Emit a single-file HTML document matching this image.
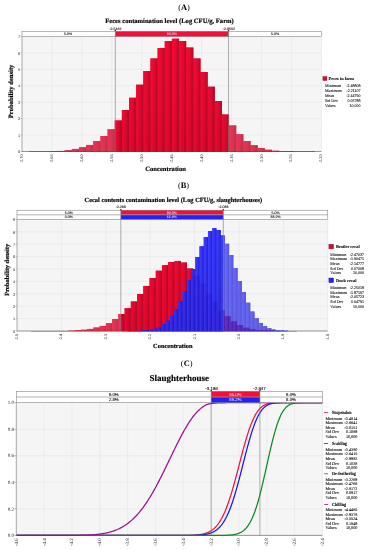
<!DOCTYPE html>
<html><head><meta charset="utf-8"><title>Figure</title>
<style>
html,body{margin:0;padding:0;background:#fff;}
svg{display:block}
text{font-family:"Liberation Serif","Times New Roman",serif;fill:#000;text-rendering:geometricPrecision}
.t{font-weight:bold;font-size:6.6px;text-anchor:middle;stroke:#000;stroke-width:0.16px}
.p{font-size:8.4px;text-anchor:middle}
.ax{font-weight:bold;font-size:6.6px;text-anchor:middle;stroke:#000;stroke-width:0.16px}
.tk{font-size:3.8px;fill:#222;font-family:"Liberation Sans",Arial,sans-serif}
.tkc{font-size:5px;fill:#222}
.lg{font-weight:bold;font-size:4.4px;stroke:#000;stroke-width:0.07px}
.st{font-size:4.2px;fill:#000;stroke:#000;stroke-width:0.07px}
.dl{font-size:3.6px;text-anchor:middle;font-family:"Liberation Sans",Arial,sans-serif;fill:#000;stroke:#000;stroke-width:0.08px}
.dw{font-size:3.6px;text-anchor:middle;font-family:"Liberation Sans",Arial,sans-serif;fill:#fff}
</style></head><body>
<svg width="368" height="550" viewBox="0 0 368 550">
<defs>
<linearGradient id="gr" x1="0" y1="0" x2="1" y2="0"><stop offset="0" stop-color="#fa0a34"/><stop offset="0.55" stop-color="#e40a30"/><stop offset="1" stop-color="#b80828"/></linearGradient>
<linearGradient id="gb" x1="0" y1="0" x2="1" y2="0"><stop offset="0" stop-color="#3a3aff"/><stop offset="0.55" stop-color="#2a2af8"/><stop offset="1" stop-color="#1818d4"/></linearGradient>
</defs>
<rect width="368" height="550" fill="#fff"/>

<text class="p" x="184" y="10.2">(<tspan font-weight="bold">A</tspan>)</text>
<text class="t" x="169.5" y="22.9">Feces contamination level (Log CFU/g, Farm)</text>
<rect x="22" y="36.5" width="299.4" height="115.0" fill="#f5f5f5"/>
<line x1="51.94" y1="36.5" x2="51.94" y2="151.5" stroke="#e3e3e3" stroke-width="0.5"/>
<line x1="81.88" y1="36.5" x2="81.88" y2="151.5" stroke="#e3e3e3" stroke-width="0.5"/>
<line x1="111.82" y1="36.5" x2="111.82" y2="151.5" stroke="#e3e3e3" stroke-width="0.5"/>
<line x1="141.76" y1="36.5" x2="141.76" y2="151.5" stroke="#e3e3e3" stroke-width="0.5"/>
<line x1="171.70" y1="36.5" x2="171.70" y2="151.5" stroke="#e3e3e3" stroke-width="0.5"/>
<line x1="201.64" y1="36.5" x2="201.64" y2="151.5" stroke="#e3e3e3" stroke-width="0.5"/>
<line x1="231.58" y1="36.5" x2="231.58" y2="151.5" stroke="#e3e3e3" stroke-width="0.5"/>
<line x1="261.52" y1="36.5" x2="261.52" y2="151.5" stroke="#e3e3e3" stroke-width="0.5"/>
<line x1="291.46" y1="36.5" x2="291.46" y2="151.5" stroke="#e3e3e3" stroke-width="0.5"/>
<line x1="22" y1="151.50" x2="321.4" y2="151.50" stroke="#e3e3e3" stroke-width="0.5"/>
<line x1="22" y1="135.07" x2="321.4" y2="135.07" stroke="#e3e3e3" stroke-width="0.5"/>
<line x1="22" y1="118.64" x2="321.4" y2="118.64" stroke="#e3e3e3" stroke-width="0.5"/>
<line x1="22" y1="102.21" x2="321.4" y2="102.21" stroke="#e3e3e3" stroke-width="0.5"/>
<line x1="22" y1="85.79" x2="321.4" y2="85.79" stroke="#e3e3e3" stroke-width="0.5"/>
<line x1="22" y1="69.36" x2="321.4" y2="69.36" stroke="#e3e3e3" stroke-width="0.5"/>
<line x1="22" y1="52.93" x2="321.4" y2="52.93" stroke="#e3e3e3" stroke-width="0.5"/>
<line x1="22" y1="36.50" x2="321.4" y2="36.50" stroke="#e3e3e3" stroke-width="0.5"/>
<line x1="22" y1="151.5" x2="321.4" y2="151.5" stroke="#707070" stroke-width="0.7"/>
<defs><clipPath id="hAi"><rect x="115.3" y="36.5" width="113.2" height="115.5"/></clipPath>
<clipPath id="hAo"><rect x="22" y="36.5" width="93.3" height="115.5"/><rect x="228.5" y="36.5" width="92.89999999999998" height="115.5"/></clipPath>
<linearGradient id="hAv" gradientUnits="userSpaceOnUse" x1="0" y1="36.5" x2="0" y2="152.0"><stop offset="0" stop-color="#000" stop-opacity="0"/><stop offset="1" stop-color="#000" stop-opacity="0.07"/></linearGradient>
<g id="hA"><path d="M29.00 152.0V151.60H36.14V151.60H43.29V151.60H50.44V151.19H57.58V150.88H64.72V150.31H71.87V148.90H79.02V147.30H86.16V144.90H93.30V141.10H100.45V136.00H107.59V129.30H114.74V120.50H121.88V110.00H129.03V97.80H136.18V84.70H143.32V71.00H150.47V58.50H157.61V48.10H164.75V41.10H171.90V38.70H179.04V41.10H186.19V47.60H193.34V58.50H200.48V72.10H207.62V86.70H214.77V101.00H221.91V114.60H229.06V125.50H236.21V134.30H243.35V141.00H250.50V145.25H257.64V148.00H264.78V149.75H271.93V150.75H279.07V151.20H286.22V151.11H293.36V151.60H300.51V151.60H307.65V151.60H314.80V152.0Z" fill="#d80a2e"/>
<rect x="29.00" y="151.60" width="7.14" height="0.40" fill="url(#gr)"/>
<rect x="36.14" y="151.60" width="7.14" height="0.40" fill="url(#gr)"/>
<rect x="43.29" y="151.60" width="7.15" height="0.40" fill="url(#gr)"/>
<rect x="50.44" y="151.19" width="7.14" height="0.81" fill="url(#gr)"/>
<rect x="57.58" y="150.88" width="7.14" height="1.12" fill="url(#gr)"/>
<rect x="64.72" y="150.31" width="7.14" height="1.69" fill="url(#gr)"/>
<rect x="71.87" y="148.90" width="7.14" height="3.10" fill="url(#gr)"/>
<rect x="79.02" y="147.30" width="7.14" height="4.70" fill="url(#gr)"/>
<rect x="86.16" y="144.90" width="7.14" height="7.10" fill="url(#gr)"/>
<rect x="93.30" y="141.10" width="7.14" height="10.90" fill="url(#gr)"/>
<rect x="100.45" y="136.00" width="7.14" height="16.00" fill="url(#gr)"/>
<rect x="107.59" y="129.30" width="7.14" height="22.70" fill="url(#gr)"/>
<rect x="114.74" y="120.50" width="7.14" height="31.50" fill="url(#gr)"/>
<rect x="121.88" y="110.00" width="7.15" height="42.00" fill="url(#gr)"/>
<rect x="129.03" y="97.80" width="7.15" height="54.20" fill="url(#gr)"/>
<rect x="136.18" y="84.70" width="7.15" height="67.30" fill="url(#gr)"/>
<rect x="143.32" y="71.00" width="7.15" height="81.00" fill="url(#gr)"/>
<rect x="150.46" y="58.50" width="7.15" height="93.50" fill="url(#gr)"/>
<rect x="157.61" y="48.10" width="7.15" height="103.90" fill="url(#gr)"/>
<rect x="164.75" y="41.10" width="7.15" height="110.90" fill="url(#gr)"/>
<rect x="171.90" y="38.70" width="7.15" height="113.30" fill="url(#gr)"/>
<rect x="179.04" y="41.10" width="7.15" height="110.90" fill="url(#gr)"/>
<rect x="186.19" y="47.60" width="7.15" height="104.40" fill="url(#gr)"/>
<rect x="193.33" y="58.50" width="7.15" height="93.50" fill="url(#gr)"/>
<rect x="200.48" y="72.10" width="7.15" height="79.90" fill="url(#gr)"/>
<rect x="207.62" y="86.70" width="7.15" height="65.30" fill="url(#gr)"/>
<rect x="214.77" y="101.00" width="7.15" height="51.00" fill="url(#gr)"/>
<rect x="221.91" y="114.60" width="7.15" height="37.40" fill="url(#gr)"/>
<rect x="229.06" y="125.50" width="7.15" height="26.50" fill="url(#gr)"/>
<rect x="236.20" y="134.30" width="7.15" height="17.70" fill="url(#gr)"/>
<rect x="243.35" y="141.00" width="7.15" height="11.00" fill="url(#gr)"/>
<rect x="250.49" y="145.25" width="7.15" height="6.75" fill="url(#gr)"/>
<rect x="257.64" y="148.00" width="7.14" height="4.00" fill="url(#gr)"/>
<rect x="264.78" y="149.75" width="7.14" height="2.25" fill="url(#gr)"/>
<rect x="271.93" y="150.75" width="7.14" height="1.25" fill="url(#gr)"/>
<rect x="279.07" y="151.20" width="7.14" height="0.80" fill="url(#gr)"/>
<rect x="286.22" y="151.11" width="7.14" height="0.89" fill="url(#gr)"/>
<rect x="293.37" y="151.60" width="7.14" height="0.40" fill="url(#gr)"/>
<rect x="300.51" y="151.60" width="7.14" height="0.40" fill="url(#gr)"/>
<rect x="307.65" y="151.60" width="7.14" height="0.40" fill="url(#gr)"/>
<path d="M29.00 152.0V151.60H36.14V151.60H43.29V151.60H50.44V151.19H57.58V150.88H64.72V150.31H71.87V148.90H79.02V147.30H86.16V144.90H93.30V141.10H100.45V136.00H107.59V129.30H114.74V120.50H121.88V110.00H129.03V97.80H136.18V84.70H143.32V71.00H150.47V58.50H157.61V48.10H164.75V41.10H171.90V38.70H179.04V41.10H186.19V47.60H193.34V58.50H200.48V72.10H207.62V86.70H214.77V101.00H221.91V114.60H229.06V125.50H236.21V134.30H243.35V141.00H250.50V145.25H257.64V148.00H264.78V149.75H271.93V150.75H279.07V151.20H286.22V151.11H293.36V151.60H300.51V151.60H307.65V151.60H314.80V152.0Z" fill="url(#hAv)"/></g></defs>
<use href="#hA" clip-path="url(#hAi)" opacity="1"/>
<use href="#hA" clip-path="url(#hAo)" opacity="0.82"/>
<rect x="22" y="31.3" width="299.4" height="5.199999999999999" fill="#fff"/>
<rect x="115.3" y="31.3" width="113.2" height="5.199999999999999" fill="#fa0c38"/>
<line x1="115.3" y1="31.3" x2="115.3" y2="151.5" stroke="#6e6e6e" stroke-width="0.55"/>
<path d="M114.3 30.1h2l-1 1.4z" fill="#222"/>
<line x1="228.5" y1="31.3" x2="228.5" y2="151.5" stroke="#6e6e6e" stroke-width="0.55"/>
<path d="M227.5 30.1h2l-1 1.4z" fill="#222"/>
<rect x="22" y="31.3" width="299.4" height="5.199999999999999" fill="none" stroke="#707070" stroke-width="0.5"/>
<path d="M22 36.5V151.8" fill="none" stroke="#858585" stroke-width="0.7"/>
<line x1="321.4" y1="36.5" x2="321.4" y2="151.5" stroke="#dcdcdc" stroke-width="0.5"/>
<text class="dl" x="68" y="35.2">5.0%</text>
<text class="dw" x="171.8" y="35.2">90.0%</text>
<text class="dl" x="275" y="35.2">5.0%</text>
<text class="dl" x="115.3" y="30">-2.5442</text>
<text class="dl" x="228.8" y="30">-2.3502</text>
<text class="tk" text-anchor="end" transform="translate(23.00,154.40) rotate(-90)">-2.70</text>
<text class="tk" text-anchor="end" transform="translate(52.94,154.40) rotate(-90)">-2.65</text>
<text class="tk" text-anchor="end" transform="translate(82.88,154.40) rotate(-90)">-2.60</text>
<text class="tk" text-anchor="end" transform="translate(112.82,154.40) rotate(-90)">-2.55</text>
<text class="tk" text-anchor="end" transform="translate(142.76,154.40) rotate(-90)">-2.50</text>
<text class="tk" text-anchor="end" transform="translate(172.70,154.40) rotate(-90)">-2.45</text>
<text class="tk" text-anchor="end" transform="translate(202.64,154.40) rotate(-90)">-2.40</text>
<text class="tk" text-anchor="end" transform="translate(232.58,154.40) rotate(-90)">-2.35</text>
<text class="tk" text-anchor="end" transform="translate(262.52,154.40) rotate(-90)">-2.30</text>
<text class="tk" text-anchor="end" transform="translate(292.46,154.40) rotate(-90)">-2.25</text>
<text class="tk" text-anchor="end" transform="translate(322.40,154.40) rotate(-90)">-2.20</text>
<text class="tk" x="20.0" y="153.20" text-anchor="end">0</text>
<line x1="20.5" y1="151.50" x2="22" y2="151.50" stroke="#888" stroke-width="0.4"/>
<text class="tk" x="20.0" y="136.77" text-anchor="end">1</text>
<line x1="20.5" y1="135.07" x2="22" y2="135.07" stroke="#888" stroke-width="0.4"/>
<text class="tk" x="20.0" y="120.34" text-anchor="end">2</text>
<line x1="20.5" y1="118.64" x2="22" y2="118.64" stroke="#888" stroke-width="0.4"/>
<text class="tk" x="20.0" y="103.91" text-anchor="end">3</text>
<line x1="20.5" y1="102.21" x2="22" y2="102.21" stroke="#888" stroke-width="0.4"/>
<text class="tk" x="20.0" y="87.49" text-anchor="end">4</text>
<line x1="20.5" y1="85.79" x2="22" y2="85.79" stroke="#888" stroke-width="0.4"/>
<text class="tk" x="20.0" y="71.06" text-anchor="end">5</text>
<line x1="20.5" y1="69.36" x2="22" y2="69.36" stroke="#888" stroke-width="0.4"/>
<text class="tk" x="20.0" y="54.63" text-anchor="end">6</text>
<line x1="20.5" y1="52.93" x2="22" y2="52.93" stroke="#888" stroke-width="0.4"/>
<text class="tk" x="20.0" y="38.20" text-anchor="end">7</text>
<line x1="20.5" y1="36.50" x2="22" y2="36.50" stroke="#888" stroke-width="0.4"/>
<text class="ax" transform="translate(13.2,91.4) rotate(-90)">Probability density</text>
<text class="ax" x="165.6" y="170.9">Concentration</text>
<rect x="322.9" y="76.5" width="4" height="4.1" fill="#d01030" stroke="#a00c26" stroke-width="0.4"/>
<text class="lg" x="328.6" y="79.8">Feces in farm</text>
<text class="st" style="font-size:4.0px" x="325" y="87.25">Minimum</text>
<text class="st" style="font-size:4.0px" x="360.5" y="87.25" text-anchor="end">-2.48808</text>
<text class="st" style="font-size:4.0px" x="325" y="92.25">Maximum</text>
<text class="st" style="font-size:4.0px" x="360.5" y="92.25" text-anchor="end">-2.21107</text>
<text class="st" style="font-size:4.0px" x="325" y="97.25">Mean</text>
<text class="st" style="font-size:4.0px" x="360.5" y="97.25" text-anchor="end">-2.44790</text>
<text class="st" style="font-size:4.0px" x="325" y="102.25">Std Dev</text>
<text class="st" style="font-size:4.0px" x="360.5" y="102.25" text-anchor="end">0.05788</text>
<text class="st" style="font-size:4.0px" x="325" y="107.25">Values</text>
<text class="st" style="font-size:4.0px" x="360.5" y="107.25" text-anchor="end">10,000</text>
<text class="p" x="183.5" y="188.2">(<tspan font-weight="bold">B</tspan>)</text>
<text class="t" x="173.4" y="202.4" style="font-size:6.4px">Cecal contents contamination level (Log CFU/g, slaughterhouses)</text>
<rect x="17" y="219.4" width="310.8" height="111.6" fill="#f5f5f5"/>
<line x1="61.40" y1="219.4" x2="61.40" y2="331.0" stroke="#e3e3e3" stroke-width="0.5"/>
<line x1="105.80" y1="219.4" x2="105.80" y2="331.0" stroke="#e3e3e3" stroke-width="0.5"/>
<line x1="150.20" y1="219.4" x2="150.20" y2="331.0" stroke="#e3e3e3" stroke-width="0.5"/>
<line x1="194.60" y1="219.4" x2="194.60" y2="331.0" stroke="#e3e3e3" stroke-width="0.5"/>
<line x1="239.00" y1="219.4" x2="239.00" y2="331.0" stroke="#e3e3e3" stroke-width="0.5"/>
<line x1="283.40" y1="219.4" x2="283.40" y2="331.0" stroke="#e3e3e3" stroke-width="0.5"/>
<line x1="17" y1="331.00" x2="327.8" y2="331.00" stroke="#e3e3e3" stroke-width="0.5"/>
<line x1="17" y1="318.60" x2="327.8" y2="318.60" stroke="#e3e3e3" stroke-width="0.5"/>
<line x1="17" y1="306.20" x2="327.8" y2="306.20" stroke="#e3e3e3" stroke-width="0.5"/>
<line x1="17" y1="293.80" x2="327.8" y2="293.80" stroke="#e3e3e3" stroke-width="0.5"/>
<line x1="17" y1="281.40" x2="327.8" y2="281.40" stroke="#e3e3e3" stroke-width="0.5"/>
<line x1="17" y1="269.00" x2="327.8" y2="269.00" stroke="#e3e3e3" stroke-width="0.5"/>
<line x1="17" y1="256.60" x2="327.8" y2="256.60" stroke="#e3e3e3" stroke-width="0.5"/>
<line x1="17" y1="244.20" x2="327.8" y2="244.20" stroke="#e3e3e3" stroke-width="0.5"/>
<line x1="17" y1="231.80" x2="327.8" y2="231.80" stroke="#e3e3e3" stroke-width="0.5"/>
<line x1="17" y1="219.40" x2="327.8" y2="219.40" stroke="#e3e3e3" stroke-width="0.5"/>
<line x1="17" y1="331.0" x2="327.8" y2="331.0" stroke="#707070" stroke-width="0.7"/>
<defs><clipPath id="hRi"><rect x="120.8" y="219.4" width="102.50000000000001" height="112.1"/></clipPath>
<clipPath id="hRo"><rect x="17" y="219.4" width="103.8" height="112.1"/><rect x="223.3" y="219.4" width="104.5" height="112.1"/></clipPath>
<linearGradient id="hRv" gradientUnits="userSpaceOnUse" x1="0" y1="219.4" x2="0" y2="331.5"><stop offset="0" stop-color="#000" stop-opacity="0"/><stop offset="1" stop-color="#000" stop-opacity="0.07"/></linearGradient>
<g id="hR"><path d="M31.08 331.5V331.10H37.31V331.10H43.55V331.10H49.78V331.10H56.02V331.10H62.25V331.10H68.49V330.66H74.73V330.20H80.96V329.80H87.20V328.90H93.43V327.60H99.67V325.90H105.90V323.30H112.14V319.10H118.37V314.10H124.61V308.30H130.84V301.50H137.08V294.10H143.31V285.90H149.55V278.00H155.78V270.70H162.02V265.20H168.25V262.00H174.49V260.90H180.72V262.60H186.96V268.50H193.19V275.60H199.43V283.60H205.66V293.00H211.90V301.70H218.13V310.00H224.37V316.30H230.60V321.50H236.84V325.20H243.07V327.80H249.31V329.30H255.54V330.00H261.78V330.06H268.01V330.49H274.25V331.10H280.48V331.10H286.72V331.5Z" fill="#d80a2e"/>
<rect x="31.08" y="331.10" width="6.23" height="0.40" fill="url(#gr)"/>
<rect x="37.31" y="331.10" width="6.23" height="0.40" fill="url(#gr)"/>
<rect x="43.55" y="331.10" width="6.23" height="0.40" fill="url(#gr)"/>
<rect x="49.78" y="331.10" width="6.23" height="0.40" fill="url(#gr)"/>
<rect x="56.02" y="331.10" width="6.23" height="0.40" fill="url(#gr)"/>
<rect x="62.25" y="331.10" width="6.23" height="0.40" fill="url(#gr)"/>
<rect x="68.49" y="330.66" width="6.23" height="0.84" fill="url(#gr)"/>
<rect x="74.72" y="330.20" width="6.23" height="1.30" fill="url(#gr)"/>
<rect x="80.96" y="329.80" width="6.23" height="1.70" fill="url(#gr)"/>
<rect x="87.19" y="328.90" width="6.23" height="2.60" fill="url(#gr)"/>
<rect x="93.43" y="327.60" width="6.23" height="3.90" fill="url(#gr)"/>
<rect x="99.67" y="325.90" width="6.23" height="5.60" fill="url(#gr)"/>
<rect x="105.90" y="323.30" width="6.23" height="8.20" fill="url(#gr)"/>
<rect x="112.14" y="319.10" width="6.23" height="12.40" fill="url(#gr)"/>
<rect x="118.37" y="314.10" width="6.23" height="17.40" fill="url(#gr)"/>
<rect x="124.61" y="308.30" width="6.23" height="23.20" fill="url(#gr)"/>
<rect x="130.84" y="301.50" width="6.24" height="30.00" fill="url(#gr)"/>
<rect x="137.07" y="294.10" width="6.24" height="37.40" fill="url(#gr)"/>
<rect x="143.31" y="285.90" width="6.24" height="45.60" fill="url(#gr)"/>
<rect x="149.55" y="278.00" width="6.24" height="53.50" fill="url(#gr)"/>
<rect x="155.78" y="270.70" width="6.24" height="60.80" fill="url(#gr)"/>
<rect x="162.01" y="265.20" width="6.24" height="66.30" fill="url(#gr)"/>
<rect x="168.25" y="262.00" width="6.24" height="69.50" fill="url(#gr)"/>
<rect x="174.49" y="260.90" width="6.24" height="70.60" fill="url(#gr)"/>
<rect x="180.72" y="262.60" width="6.24" height="68.90" fill="url(#gr)"/>
<rect x="186.95" y="268.50" width="6.24" height="63.00" fill="url(#gr)"/>
<rect x="193.19" y="275.60" width="6.24" height="55.90" fill="url(#gr)"/>
<rect x="199.43" y="283.60" width="6.24" height="47.90" fill="url(#gr)"/>
<rect x="205.66" y="293.00" width="6.24" height="38.50" fill="url(#gr)"/>
<rect x="211.89" y="301.70" width="6.24" height="29.80" fill="url(#gr)"/>
<rect x="218.13" y="310.00" width="6.24" height="21.50" fill="url(#gr)"/>
<rect x="224.37" y="316.30" width="6.24" height="15.20" fill="url(#gr)"/>
<rect x="230.60" y="321.50" width="6.24" height="10.00" fill="url(#gr)"/>
<rect x="236.84" y="325.20" width="6.24" height="6.30" fill="url(#gr)"/>
<rect x="243.07" y="327.80" width="6.24" height="3.70" fill="url(#gr)"/>
<rect x="249.31" y="329.30" width="6.24" height="2.20" fill="url(#gr)"/>
<rect x="255.54" y="330.00" width="6.24" height="1.50" fill="url(#gr)"/>
<rect x="261.78" y="330.06" width="6.24" height="1.44" fill="url(#gr)"/>
<rect x="268.01" y="330.49" width="6.24" height="1.01" fill="url(#gr)"/>
<rect x="274.25" y="331.10" width="6.24" height="0.40" fill="url(#gr)"/>
<rect x="280.48" y="331.10" width="6.24" height="0.40" fill="url(#gr)"/>
<path d="M31.08 331.5V331.10H37.31V331.10H43.55V331.10H49.78V331.10H56.02V331.10H62.25V331.10H68.49V330.66H74.73V330.20H80.96V329.80H87.20V328.90H93.43V327.60H99.67V325.90H105.90V323.30H112.14V319.10H118.37V314.10H124.61V308.30H130.84V301.50H137.08V294.10H143.31V285.90H149.55V278.00H155.78V270.70H162.02V265.20H168.25V262.00H174.49V260.90H180.72V262.60H186.96V268.50H193.19V275.60H199.43V283.60H205.66V293.00H211.90V301.70H218.13V310.00H224.37V316.30H230.60V321.50H236.84V325.20H243.07V327.80H249.31V329.30H255.54V330.00H261.78V330.06H268.01V330.49H274.25V331.10H280.48V331.10H286.72V331.5Z" fill="url(#hRv)"/></g></defs>
<use href="#hR" clip-path="url(#hRi)" opacity="1"/>
<use href="#hR" clip-path="url(#hRo)" opacity="0.82"/>
<defs><clipPath id="hBi"><rect x="120.8" y="219.4" width="102.50000000000001" height="112.1"/></clipPath>
<clipPath id="hBo"><rect x="17" y="219.4" width="103.8" height="112.1"/><rect x="223.3" y="219.4" width="104.5" height="112.1"/></clipPath>
<linearGradient id="hBv" gradientUnits="userSpaceOnUse" x1="0" y1="219.4" x2="0" y2="331.5"><stop offset="0" stop-color="#000" stop-opacity="0"/><stop offset="1" stop-color="#000" stop-opacity="0.07"/></linearGradient>
<g id="hB"><path d="M127.70 331.5V331.10H131.93V331.10H136.15V331.10H140.38V330.61H144.60V330.26H148.82V329.80H153.05V328.70H157.28V327.20H161.50V324.30H165.72V320.70H169.95V315.70H174.17V309.10H178.40V301.10H182.62V291.40H186.85V280.20H191.07V269.10H195.30V257.10H199.53V246.30H203.75V237.10H207.97V231.00H212.20V228.20H216.42V230.00H220.65V235.40H224.87V243.80H229.10V255.00H233.32V268.00H237.55V281.00H241.78V292.20H246.00V302.70H250.22V311.60H254.45V318.20H258.68V322.90H262.90V326.00H267.12V328.20H271.35V329.60H275.57V330.30H279.80V330.41H284.03V330.69H288.25V331.10H292.48V331.10H296.70V331.5Z" fill="#1c1ce6"/>
<rect x="127.70" y="331.10" width="4.23" height="0.40" fill="url(#gb)"/>
<rect x="131.93" y="331.10" width="4.22" height="0.40" fill="url(#gb)"/>
<rect x="136.15" y="331.10" width="4.22" height="0.40" fill="url(#gb)"/>
<rect x="140.38" y="330.61" width="4.22" height="0.89" fill="url(#gb)"/>
<rect x="144.60" y="330.26" width="4.22" height="1.24" fill="url(#gb)"/>
<rect x="148.82" y="329.80" width="4.22" height="1.70" fill="url(#gb)"/>
<rect x="153.05" y="328.70" width="4.22" height="2.80" fill="url(#gb)"/>
<rect x="157.28" y="327.20" width="4.22" height="4.30" fill="url(#gb)"/>
<rect x="161.50" y="324.30" width="4.22" height="7.20" fill="url(#gb)"/>
<rect x="165.72" y="320.70" width="4.22" height="10.80" fill="url(#gb)"/>
<rect x="169.95" y="315.70" width="4.22" height="15.80" fill="url(#gb)"/>
<rect x="174.18" y="309.10" width="4.22" height="22.40" fill="url(#gb)"/>
<rect x="178.40" y="301.10" width="4.22" height="30.40" fill="url(#gb)"/>
<rect x="182.62" y="291.40" width="4.22" height="40.10" fill="url(#gb)"/>
<rect x="186.85" y="280.20" width="4.22" height="51.30" fill="url(#gb)"/>
<rect x="191.07" y="269.10" width="4.22" height="62.40" fill="url(#gb)"/>
<rect x="195.30" y="257.10" width="4.22" height="74.40" fill="url(#gb)"/>
<rect x="199.52" y="246.30" width="4.22" height="85.20" fill="url(#gb)"/>
<rect x="203.75" y="237.10" width="4.22" height="94.40" fill="url(#gb)"/>
<rect x="207.97" y="231.00" width="4.22" height="100.50" fill="url(#gb)"/>
<rect x="212.20" y="228.20" width="4.22" height="103.30" fill="url(#gb)"/>
<rect x="216.43" y="230.00" width="4.22" height="101.50" fill="url(#gb)"/>
<rect x="220.65" y="235.40" width="4.22" height="96.10" fill="url(#gb)"/>
<rect x="224.88" y="243.80" width="4.22" height="87.70" fill="url(#gb)"/>
<rect x="229.10" y="255.00" width="4.22" height="76.50" fill="url(#gb)"/>
<rect x="233.32" y="268.00" width="4.22" height="63.50" fill="url(#gb)"/>
<rect x="237.55" y="281.00" width="4.22" height="50.50" fill="url(#gb)"/>
<rect x="241.77" y="292.20" width="4.22" height="39.30" fill="url(#gb)"/>
<rect x="246.00" y="302.70" width="4.22" height="28.80" fill="url(#gb)"/>
<rect x="250.22" y="311.60" width="4.22" height="19.90" fill="url(#gb)"/>
<rect x="254.45" y="318.20" width="4.23" height="13.30" fill="url(#gb)"/>
<rect x="258.68" y="322.90" width="4.23" height="8.60" fill="url(#gb)"/>
<rect x="262.90" y="326.00" width="4.23" height="5.50" fill="url(#gb)"/>
<rect x="267.12" y="328.20" width="4.23" height="3.30" fill="url(#gb)"/>
<rect x="271.35" y="329.60" width="4.23" height="1.90" fill="url(#gb)"/>
<rect x="275.57" y="330.30" width="4.23" height="1.20" fill="url(#gb)"/>
<rect x="279.80" y="330.41" width="4.23" height="1.09" fill="url(#gb)"/>
<rect x="284.02" y="330.69" width="4.23" height="0.81" fill="url(#gb)"/>
<rect x="288.25" y="331.10" width="4.23" height="0.40" fill="url(#gb)"/>
<rect x="292.47" y="331.10" width="4.23" height="0.40" fill="url(#gb)"/>
<path d="M127.70 331.5V331.10H131.93V331.10H136.15V331.10H140.38V330.61H144.60V330.26H148.82V329.80H153.05V328.70H157.28V327.20H161.50V324.30H165.72V320.70H169.95V315.70H174.17V309.10H178.40V301.10H182.62V291.40H186.85V280.20H191.07V269.10H195.30V257.10H199.53V246.30H203.75V237.10H207.97V231.00H212.20V228.20H216.42V230.00H220.65V235.40H224.87V243.80H229.10V255.00H233.32V268.00H237.55V281.00H241.78V292.20H246.00V302.70H250.22V311.60H254.45V318.20H258.68V322.90H262.90V326.00H267.12V328.20H271.35V329.60H275.57V330.30H279.80V330.41H284.03V330.69H288.25V331.10H292.48V331.10H296.70V331.5Z" fill="url(#hBv)"/></g></defs>
<use href="#hB" clip-path="url(#hBi)" opacity="0.96"/>
<use href="#hB" clip-path="url(#hBo)" opacity="0.72"/>
<rect x="17" y="210.2" width="310.8" height="9.200000000000017" fill="#fff"/>
<rect x="120.8" y="210.2" width="102.50000000000001" height="4.600000000000023" fill="#fa0c38"/>
<rect x="120.8" y="214.8" width="102.50000000000001" height="4.599999999999994" fill="#2222f8"/>
<line x1="120.8" y1="210.2" x2="120.8" y2="331.0" stroke="#6e6e6e" stroke-width="0.55"/>
<path d="M119.8 209.0h2l-1 1.4z" fill="#222"/>
<line x1="223.3" y1="210.2" x2="223.3" y2="331.0" stroke="#6e6e6e" stroke-width="0.55"/>
<path d="M222.3 209.0h2l-1 1.4z" fill="#222"/>
<rect x="17" y="210.2" width="310.8" height="9.200000000000017" fill="none" stroke="#707070" stroke-width="0.5"/>
<line x1="17" y1="214.80" x2="327.8" y2="214.80" stroke="#9a9a9a" stroke-width="0.75"/>
<path d="M17 219.4V331.3" fill="none" stroke="#858585" stroke-width="0.7"/>
<line x1="327.8" y1="219.4" x2="327.8" y2="331.0" stroke="#dcdcdc" stroke-width="0.5"/>
<text class="dl" x="68.8" y="213.7">5.0%</text><text class="dl" x="68.8" y="218.3">0.0%</text>
<text class="dw" x="171.8" y="213.7">90.0%</text><text class="dw" x="171.8" y="218.3">66.8%</text>
<text class="dl" x="275.5" y="213.7">5.0%</text><text class="dl" x="275.5" y="218.3">33.2%</text>
<text class="dl" x="120.8" y="208">-2.266</text>
<text class="dl" x="223.3" y="208">-2.036</text>
<text class="tk" text-anchor="end" transform="translate(18.00,333.90) rotate(-90)">-2.5</text>
<text class="tk" text-anchor="end" transform="translate(62.40,333.90) rotate(-90)">-2.4</text>
<text class="tk" text-anchor="end" transform="translate(106.80,333.90) rotate(-90)">-2.3</text>
<text class="tk" text-anchor="end" transform="translate(151.20,333.90) rotate(-90)">-2.2</text>
<text class="tk" text-anchor="end" transform="translate(195.60,333.90) rotate(-90)">-2.1</text>
<text class="tk" text-anchor="end" transform="translate(240.00,333.90) rotate(-90)">-2.0</text>
<text class="tk" text-anchor="end" transform="translate(284.40,333.90) rotate(-90)">-1.9</text>
<text class="tk" text-anchor="end" transform="translate(328.80,333.90) rotate(-90)">-1.8</text>
<text class="tk" x="15.0" y="332.70" text-anchor="end">0</text>
<line x1="15.5" y1="331.00" x2="17" y2="331.00" stroke="#888" stroke-width="0.4"/>
<text class="tk" x="15.0" y="320.30" text-anchor="end">1</text>
<line x1="15.5" y1="318.60" x2="17" y2="318.60" stroke="#888" stroke-width="0.4"/>
<text class="tk" x="15.0" y="307.90" text-anchor="end">2</text>
<line x1="15.5" y1="306.20" x2="17" y2="306.20" stroke="#888" stroke-width="0.4"/>
<text class="tk" x="15.0" y="295.50" text-anchor="end">3</text>
<line x1="15.5" y1="293.80" x2="17" y2="293.80" stroke="#888" stroke-width="0.4"/>
<text class="tk" x="15.0" y="283.10" text-anchor="end">4</text>
<line x1="15.5" y1="281.40" x2="17" y2="281.40" stroke="#888" stroke-width="0.4"/>
<text class="tk" x="15.0" y="270.70" text-anchor="end">5</text>
<line x1="15.5" y1="269.00" x2="17" y2="269.00" stroke="#888" stroke-width="0.4"/>
<text class="tk" x="15.0" y="258.30" text-anchor="end">6</text>
<line x1="15.5" y1="256.60" x2="17" y2="256.60" stroke="#888" stroke-width="0.4"/>
<text class="tk" x="15.0" y="245.90" text-anchor="end">7</text>
<line x1="15.5" y1="244.20" x2="17" y2="244.20" stroke="#888" stroke-width="0.4"/>
<text class="tk" x="15.0" y="233.50" text-anchor="end">8</text>
<line x1="15.5" y1="231.80" x2="17" y2="231.80" stroke="#888" stroke-width="0.4"/>
<text class="tk" x="15.0" y="221.10" text-anchor="end">9</text>
<line x1="15.5" y1="219.40" x2="17" y2="219.40" stroke="#888" stroke-width="0.4"/>
<text class="ax" transform="translate(9.4,269.8) rotate(-90)" style="font-size:6.4px">Probability density</text>
<text class="ax" x="172.8" y="348" style="font-size:6.4px">Concentration</text>
<rect x="328.9" y="244.2" width="4.7" height="4.7" fill="#d01030" stroke="#a00c26" stroke-width="0.4"/>
<text class="lg" x="336" y="248.1">Broiler cecal</text>
<text class="st" style="font-size:4.0px" x="330.3" y="255.50">Minimum</text>
<text class="st" style="font-size:4.0px" x="364.1" y="255.50" text-anchor="end">-2.47037</text>
<text class="st" style="font-size:4.0px" x="330.3" y="260.05">Maximum</text>
<text class="st" style="font-size:4.0px" x="364.1" y="260.05" text-anchor="end">-1.90471</text>
<text class="st" style="font-size:4.0px" x="330.3" y="264.75">Mean</text>
<text class="st" style="font-size:4.0px" x="364.1" y="264.75" text-anchor="end">-2.14777</text>
<text class="st" style="font-size:4.0px" x="330.3" y="269.50">Std Dev</text>
<text class="st" style="font-size:4.0px" x="364.1" y="269.50" text-anchor="end">0.07008</text>
<text class="st" style="font-size:4.0px" x="330.3" y="274.25">Values</text>
<text class="st" style="font-size:4.0px" x="364.1" y="274.25" text-anchor="end">10,000</text>
<rect x="328.9" y="278" width="4.7" height="4.7" fill="#2626f0" stroke="#1a1ab8" stroke-width="0.4"/>
<text class="lg" x="336" y="281.9">Duck cecal</text>
<text class="st" style="font-size:4.0px" x="330.3" y="288.75">Minimum</text>
<text class="st" style="font-size:4.0px" x="364.1" y="288.75" text-anchor="end">-2.25018</text>
<text class="st" style="font-size:4.0px" x="330.3" y="293.50">Maximum</text>
<text class="st" style="font-size:4.0px" x="364.1" y="293.50" text-anchor="end">-1.87197</text>
<text class="st" style="font-size:4.0px" x="330.3" y="298.25">Mean</text>
<text class="st" style="font-size:4.0px" x="364.1" y="298.25" text-anchor="end">-2.05723</text>
<text class="st" style="font-size:4.0px" x="330.3" y="302.75">Std Dev</text>
<text class="st" style="font-size:4.0px" x="364.1" y="302.75" text-anchor="end">0.04791</text>
<text class="st" style="font-size:4.0px" x="330.3" y="307.75">Values</text>
<text class="st" style="font-size:4.0px" x="364.1" y="307.75" text-anchor="end">10,000</text>
<text class="p" x="186.7" y="365.8">(<tspan font-weight="bold">C</tspan>)</text>
<text class="t" x="179.2" y="381.2" style="font-size:9px">Slaughterhouse</text>
<rect x="16.3" y="402.7" width="306.09999999999997" height="132.7" fill="#f5f5f5"/>
<line x1="44.13" y1="402.7" x2="44.13" y2="535.4" stroke="#e3e3e3" stroke-width="0.5"/>
<line x1="71.95" y1="402.7" x2="71.95" y2="535.4" stroke="#e3e3e3" stroke-width="0.5"/>
<line x1="99.78" y1="402.7" x2="99.78" y2="535.4" stroke="#e3e3e3" stroke-width="0.5"/>
<line x1="127.61" y1="402.7" x2="127.61" y2="535.4" stroke="#e3e3e3" stroke-width="0.5"/>
<line x1="155.44" y1="402.7" x2="155.44" y2="535.4" stroke="#e3e3e3" stroke-width="0.5"/>
<line x1="183.26" y1="402.7" x2="183.26" y2="535.4" stroke="#e3e3e3" stroke-width="0.5"/>
<line x1="211.09" y1="402.7" x2="211.09" y2="535.4" stroke="#e3e3e3" stroke-width="0.5"/>
<line x1="238.92" y1="402.7" x2="238.92" y2="535.4" stroke="#e3e3e3" stroke-width="0.5"/>
<line x1="266.75" y1="402.7" x2="266.75" y2="535.4" stroke="#e3e3e3" stroke-width="0.5"/>
<line x1="294.57" y1="402.7" x2="294.57" y2="535.4" stroke="#e3e3e3" stroke-width="0.5"/>
<line x1="16.3" y1="535.40" x2="322.4" y2="535.40" stroke="#e3e3e3" stroke-width="0.5"/>
<line x1="16.3" y1="508.86" x2="322.4" y2="508.86" stroke="#e3e3e3" stroke-width="0.5"/>
<line x1="16.3" y1="482.32" x2="322.4" y2="482.32" stroke="#e3e3e3" stroke-width="0.5"/>
<line x1="16.3" y1="455.78" x2="322.4" y2="455.78" stroke="#e3e3e3" stroke-width="0.5"/>
<line x1="16.3" y1="429.24" x2="322.4" y2="429.24" stroke="#e3e3e3" stroke-width="0.5"/>
<line x1="16.3" y1="402.70" x2="322.4" y2="402.70" stroke="#e3e3e3" stroke-width="0.5"/>
<line x1="16.3" y1="535.4" x2="322.4" y2="535.4" stroke="#707070" stroke-width="0.7"/>
<polyline points="16.30,535.40 169.56,535.40 169.93,535.40 170.31,535.40 170.68,535.40 171.06,535.40 171.43,535.40 171.81,535.40 172.18,535.40 172.56,535.40 172.93,535.40 173.30,535.40 173.67,535.40 174.04,535.40 174.41,535.39 174.78,535.39 175.15,535.39 175.52,535.39 175.89,535.39 176.26,535.39 176.63,535.39 177.00,535.39 177.36,535.39 177.73,535.39 178.10,535.39 178.46,535.39 178.83,535.39 179.19,535.38 179.55,535.38 179.92,535.38 180.28,535.38 180.64,535.38 181.01,535.38 181.37,535.38 181.73,535.37 182.09,535.37 182.45,535.37 182.81,535.37 183.17,535.36 183.53,535.36 183.89,535.36 184.24,535.36 184.60,535.35 184.96,535.35 185.31,535.34 185.67,535.34 186.03,535.34 186.38,535.33 186.74,535.33 187.09,535.32 187.44,535.31 187.80,535.31 188.15,535.30 188.50,535.30 188.85,535.29 189.20,535.28 189.55,535.27 189.90,535.26 190.25,535.25 190.60,535.24 190.95,535.23 191.30,535.22 191.65,535.21 192.00,535.20 192.34,535.18 192.69,535.17 193.03,535.15 193.38,535.14 193.72,535.12 194.07,535.10 194.41,535.08 194.76,535.06 195.10,535.04 195.44,535.02 195.78,534.99 196.12,534.97 196.47,534.94 196.81,534.91 197.15,534.88 197.49,534.85 197.83,534.82 198.16,534.78 198.50,534.74 198.84,534.71 199.18,534.66 199.51,534.62 199.85,534.58 200.19,534.53 200.52,534.48 200.86,534.43 201.19,534.37 201.52,534.31 201.86,534.25 202.19,534.19 202.52,534.12 202.85,534.05 203.19,533.98 203.52,533.90 203.85,533.82 204.18,533.74 204.51,533.65 204.84,533.56 205.16,533.46 205.49,533.36 205.82,533.25 206.15,533.14 206.47,533.03 206.80,532.91 207.13,532.79 207.45,532.66 207.78,532.52 208.10,532.38 208.42,532.23 208.75,532.08 209.07,531.92 209.39,531.76 209.71,531.59 210.04,531.41 210.36,531.23 210.68,531.04 211.00,530.84 211.32,530.63 211.63,530.42 211.95,530.20 212.27,529.97 212.59,529.73 212.91,529.49 213.22,529.23 213.54,528.97 213.85,528.70 214.17,528.42 214.48,528.13 214.80,527.83 215.11,527.52 215.43,527.20 215.74,526.87 216.05,526.53 216.36,526.19 216.67,525.83 216.98,525.46 217.29,525.08 217.60,524.68 217.91,524.28 218.22,523.87 218.53,523.44 218.84,523.00 219.15,522.55 219.45,522.09 219.76,521.62 220.07,521.14 220.37,520.64 220.68,520.13 220.98,519.61 221.28,519.07 221.59,518.53 221.89,517.97 222.19,517.40 222.50,516.81 222.80,516.22 223.10,515.61 223.40,514.98 223.70,514.35 224.00,513.70 224.30,513.04 224.60,512.36 224.90,511.68 225.19,510.98 225.49,510.26 225.79,509.54 226.08,508.80 226.38,508.05 226.68,507.29 226.97,506.51 227.27,505.72 227.56,504.93 227.85,504.11 228.15,503.29 228.44,502.46 228.73,501.61 229.02,500.75 229.31,499.89 229.60,499.01 229.89,498.12 230.18,497.22 230.47,496.31 230.76,495.39 231.05,494.46 231.34,493.52 231.63,492.57 231.91,491.61 232.20,490.65 232.48,489.67 232.77,488.69 233.05,487.70 233.34,486.71 233.62,485.71 233.91,484.70 234.19,483.68 234.47,482.66 234.75,481.63 235.03,480.60 235.32,479.57 235.60,478.53 235.88,477.48 236.16,476.44 236.44,475.39 236.71,474.34 236.99,473.28 237.27,472.22 237.55,471.17 237.82,470.11 238.10,469.05 238.38,467.99 238.65,466.93 238.93,465.88 239.20,464.82 239.47,463.76 239.75,462.71 240.02,461.66 240.29,460.62 240.56,459.57 240.84,458.53 241.11,457.50 241.38,456.47 241.65,455.44 241.92,454.42 242.19,453.40 242.45,452.39 242.72,451.39 242.99,450.40 243.26,449.41 243.52,448.43 243.79,447.45 244.06,446.49 244.32,445.53 244.59,444.58 244.85,443.64 245.11,442.71 245.38,441.79 245.64,440.88 245.90,439.98 246.16,439.09 246.43,438.21 246.69,437.35 246.95,436.49 247.21,435.64 247.47,434.81 247.72,433.99 247.98,433.17 248.24,432.38 248.50,431.59 248.76,430.81 249.01,430.05 249.27,429.30 249.52,428.56 249.78,427.84 250.03,427.12 250.29,426.42 250.54,425.74 250.80,425.06 251.05,424.40 251.30,423.75 251.55,423.12 251.80,422.49 252.05,421.88 252.30,421.29 252.55,420.70 252.80,420.13 253.05,419.57 253.30,419.03 253.55,418.49 253.80,417.97 254.04,417.46 254.29,416.96 254.54,416.48 254.78,416.01 255.03,415.55 255.27,415.10 255.51,414.66 255.76,414.23 256.00,413.82 256.24,413.42 256.49,413.02 256.73,412.64 256.97,412.27 257.21,411.91 257.45,411.57 257.69,411.23 257.93,410.90 258.17,410.58 258.41,410.27 258.64,409.97 258.88,409.68 259.12,409.40 259.35,409.13 259.59,408.87 259.83,408.61 260.06,408.37 260.30,408.13 260.53,407.90 260.76,407.68 261.00,407.47 261.23,407.26 261.46,407.06 261.69,406.87 261.92,406.69 262.15,406.51 262.38,406.34 262.61,406.18 262.84,406.02 263.07,405.87 263.30,405.72 263.53,405.58 263.76,405.44 263.98,405.31 264.21,405.19 264.43,405.07 264.66,404.96 264.88,404.85 265.11,404.74 265.33,404.64 265.56,404.54 265.78,404.45 266.00,404.36 266.22,404.28 266.44,404.20 266.67,404.12 266.89,404.05 267.11,403.98 267.33,403.91 267.55,403.85 267.76,403.79 267.98,403.73 268.20,403.67 268.42,403.62 268.63,403.57 268.85,403.52 269.07,403.48 269.28,403.44 269.50,403.39 269.71,403.36 269.92,403.32 270.14,403.28 270.35,403.25 270.56,403.22 270.77,403.19 270.99,403.16 271.20,403.13 271.41,403.11 271.62,403.08 271.83,403.06 272.04,403.04 272.24,403.02 272.45,403.00 272.66,402.98 272.87,402.96 273.07,402.95 273.28,402.93 273.49,402.92 273.69,402.90 273.90,402.89 274.10,402.88 274.30,402.87 274.51,402.86 274.71,402.85 274.91,402.84 275.11,402.83 275.32,402.82 275.52,402.81 275.72,402.80 275.92,402.80 276.12,402.79 276.31,402.79 276.51,402.78 276.71,402.77 276.91,402.77 277.11,402.76 277.30,402.76 277.50,402.76 277.69,402.75 277.89,402.75 278.08,402.74 278.28,402.74 278.47,402.74 278.67,402.74 278.86,402.73 279.05,402.73 279.24,402.73 279.43,402.73 279.62,402.72 279.81,402.72 280.00,402.72 280.19,402.72 280.38,402.72 280.57,402.72 280.76,402.72 280.95,402.71 281.13,402.71 281.32,402.71 281.51,402.71 281.69,402.71 281.88,402.71 282.06,402.71 282.24,402.71 282.43,402.71 282.61,402.71 282.79,402.71 282.98,402.71 283.16,402.71 283.34,402.70 283.52,402.70 283.70,402.70 283.88,402.70 284.06,402.70 284.24,402.70 284.42,402.70 284.59,402.70 284.77,402.70 284.95,402.70 285.12,402.70 285.30,402.70 285.48,402.70 322.40,402.70" fill="none" stroke="#f2123c" stroke-width="1.25" stroke-linejoin="round"/>
<polyline points="16.30,535.40 174.52,535.40 174.89,535.40 175.26,535.40 175.63,535.40 176.00,535.40 176.36,535.40 176.73,535.40 177.10,535.40 177.47,535.40 177.83,535.40 178.20,535.40 178.57,535.40 178.93,535.40 179.30,535.39 179.66,535.39 180.02,535.39 180.39,535.39 180.75,535.39 181.11,535.39 181.47,535.39 181.84,535.39 182.20,535.39 182.56,535.39 182.92,535.39 183.28,535.39 183.64,535.39 183.99,535.38 184.35,535.38 184.71,535.38 185.07,535.38 185.42,535.38 185.78,535.38 186.14,535.38 186.49,535.37 186.85,535.37 187.20,535.37 187.55,535.37 187.91,535.36 188.26,535.36 188.61,535.36 188.96,535.36 189.32,535.35 189.67,535.35 190.02,535.34 190.37,535.34 190.72,535.34 191.06,535.33 191.41,535.33 191.76,535.32 192.11,535.31 192.46,535.31 192.80,535.30 193.15,535.30 193.49,535.29 193.84,535.28 194.18,535.27 194.53,535.26 194.87,535.25 195.22,535.24 195.56,535.23 195.90,535.22 196.24,535.21 196.58,535.20 196.92,535.18 197.26,535.17 197.60,535.15 197.94,535.14 198.28,535.12 198.62,535.10 198.96,535.08 199.30,535.06 199.63,535.04 199.97,535.02 200.31,534.99 200.64,534.97 200.98,534.94 201.31,534.91 201.64,534.88 201.98,534.85 202.31,534.82 202.64,534.78 202.98,534.74 203.31,534.71 203.64,534.66 203.97,534.62 204.30,534.58 204.63,534.53 204.96,534.48 205.29,534.43 205.62,534.37 205.94,534.31 206.27,534.25 206.60,534.19 206.92,534.12 207.25,534.05 207.58,533.98 207.90,533.90 208.23,533.82 208.55,533.74 208.87,533.65 209.20,533.56 209.52,533.46 209.84,533.36 210.16,533.25 210.48,533.14 210.80,533.03 211.12,532.91 211.44,532.79 211.76,532.66 212.08,532.52 212.40,532.38 212.72,532.23 213.04,532.08 213.35,531.92 213.67,531.76 213.98,531.59 214.30,531.41 214.61,531.23 214.93,531.04 215.24,530.84 215.56,530.63 215.87,530.42 216.18,530.20 216.49,529.97 216.80,529.73 217.12,529.49 217.43,529.23 217.74,528.97 218.05,528.70 218.36,528.42 218.66,528.13 218.97,527.83 219.28,527.52 219.59,527.20 219.89,526.87 220.20,526.53 220.51,526.19 220.81,525.83 221.12,525.46 221.42,525.08 221.72,524.68 222.03,524.28 222.33,523.87 222.63,523.44 222.93,523.00 223.24,522.55 223.54,522.09 223.84,521.62 224.14,521.14 224.44,520.64 224.74,520.13 225.03,519.61 225.33,519.07 225.63,518.53 225.93,517.97 226.22,517.40 226.52,516.81 226.82,516.22 227.11,515.61 227.41,514.98 227.70,514.35 227.99,513.70 228.29,513.04 228.58,512.36 228.87,511.68 229.16,510.98 229.46,510.26 229.75,509.54 230.04,508.80 230.33,508.05 230.62,507.29 230.90,506.51 231.19,505.72 231.48,504.93 231.77,504.11 232.06,503.29 232.34,502.46 232.63,501.61 232.91,500.75 233.20,499.89 233.48,499.01 233.77,498.12 234.05,497.22 234.34,496.31 234.62,495.39 234.90,494.46 235.18,493.52 235.46,492.57 235.74,491.61 236.02,490.65 236.30,489.67 236.58,488.69 236.86,487.70 237.14,486.71 237.42,485.71 237.70,484.70 237.97,483.68 238.25,482.66 238.53,481.63 238.80,480.60 239.08,479.57 239.35,478.53 239.62,477.48 239.90,476.44 240.17,475.39 240.44,474.34 240.72,473.28 240.99,472.22 241.26,471.17 241.53,470.11 241.80,469.05 242.07,467.99 242.34,466.93 242.61,465.88 242.88,464.82 243.14,463.76 243.41,462.71 243.68,461.66 243.94,460.62 244.21,459.57 244.48,458.53 244.74,457.50 245.01,456.47 245.27,455.44 245.53,454.42 245.80,453.40 246.06,452.39 246.32,451.39 246.58,450.40 246.84,449.41 247.10,448.43 247.36,447.45 247.62,446.49 247.88,445.53 248.14,444.58 248.40,443.64 248.66,442.71 248.92,441.79 249.17,440.88 249.43,439.98 249.68,439.09 249.94,438.21 250.19,437.35 250.45,436.49 250.70,435.64 250.96,434.81 251.21,433.99 251.46,433.17 251.71,432.38 251.96,431.59 252.22,430.81 252.47,430.05 252.72,429.30 252.97,428.56 253.22,427.84 253.46,427.12 253.71,426.42 253.96,425.74 254.21,425.06 254.45,424.40 254.70,423.75 254.95,423.12 255.19,422.49 255.44,421.88 255.68,421.29 255.92,420.70 256.17,420.13 256.41,419.57 256.65,419.03 256.89,418.49 257.14,417.97 257.38,417.46 257.62,416.96 257.86,416.48 258.10,416.01 258.34,415.55 258.57,415.10 258.81,414.66 259.05,414.23 259.29,413.82 259.52,413.42 259.76,413.02 260.00,412.64 260.23,412.27 260.47,411.91 260.70,411.57 260.93,411.23 261.17,410.90 261.40,410.58 261.63,410.27 261.86,409.97 262.10,409.68 262.33,409.40 262.56,409.13 262.79,408.87 263.02,408.61 263.24,408.37 263.47,408.13 263.70,407.90 263.93,407.68 264.16,407.47 264.38,407.26 264.61,407.06 264.83,406.87 265.06,406.69 265.28,406.51 265.51,406.34 265.73,406.18 265.96,406.02 266.18,405.87 266.40,405.72 266.62,405.58 266.84,405.44 267.06,405.31 267.28,405.19 267.50,405.07 267.72,404.96 267.94,404.85 268.16,404.74 268.38,404.64 268.60,404.54 268.81,404.45 269.03,404.36 269.25,404.28 269.46,404.20 269.68,404.12 269.89,404.05 270.10,403.98 270.32,403.91 270.53,403.85 270.74,403.79 270.96,403.73 271.17,403.67 271.38,403.62 271.59,403.57 271.80,403.52 272.01,403.48 272.22,403.44 272.43,403.39 272.64,403.36 272.84,403.32 273.05,403.28 273.26,403.25 273.46,403.22 273.67,403.19 273.88,403.16 274.08,403.13 274.29,403.11 274.49,403.08 274.69,403.06 274.90,403.04 275.10,403.02 275.30,403.00 275.50,402.98 275.70,402.96 275.90,402.95 276.10,402.93 276.30,402.92 276.50,402.90 276.70,402.89 276.90,402.88 277.10,402.87 277.30,402.86 277.49,402.85 277.69,402.84 277.88,402.83 278.08,402.82 278.27,402.81 278.47,402.80 278.66,402.80 278.86,402.79 279.05,402.79 279.24,402.78 279.43,402.77 279.62,402.77 279.82,402.76 280.01,402.76 280.20,402.76 280.39,402.75 280.58,402.75 280.76,402.74 280.95,402.74 281.14,402.74 281.33,402.74 281.51,402.73 281.70,402.73 281.89,402.73 282.07,402.73 282.26,402.72 282.44,402.72 282.62,402.72 282.81,402.72 282.99,402.72 283.17,402.72 283.35,402.72 283.54,402.71 283.72,402.71 283.90,402.71 284.08,402.71 284.26,402.71 284.44,402.71 284.61,402.71 284.79,402.71 284.97,402.71 285.15,402.71 285.32,402.71 285.50,402.71 285.68,402.71 285.85,402.70 286.03,402.70 286.20,402.70 286.37,402.70 286.55,402.70 286.72,402.70 286.89,402.70 287.06,402.70 287.24,402.70 287.41,402.70 287.58,402.70 287.75,402.70 287.92,402.70 322.40,402.70" fill="none" stroke="#1616f2" stroke-width="1.25" stroke-linejoin="round"/>
<polyline points="16.30,535.40 209.38,535.40 209.69,535.40 209.99,535.40 210.29,535.40 210.59,535.40 210.90,535.40 211.20,535.40 211.50,535.40 211.80,535.40 212.10,535.40 212.40,535.40 212.70,535.40 213.00,535.40 213.30,535.39 213.60,535.39 213.90,535.39 214.19,535.39 214.49,535.39 214.79,535.39 215.09,535.39 215.38,535.39 215.68,535.39 215.98,535.39 216.27,535.39 216.57,535.39 216.86,535.39 217.16,535.38 217.45,535.38 217.75,535.38 218.04,535.38 218.34,535.38 218.63,535.38 218.92,535.38 219.22,535.37 219.51,535.37 219.80,535.37 220.09,535.37 220.38,535.36 220.67,535.36 220.97,535.36 221.26,535.36 221.55,535.35 221.84,535.35 222.13,535.34 222.42,535.34 222.70,535.34 222.99,535.33 223.28,535.33 223.57,535.32 223.86,535.31 224.14,535.31 224.43,535.30 224.72,535.30 225.00,535.29 225.29,535.28 225.58,535.27 225.86,535.26 226.15,535.25 226.43,535.24 226.72,535.23 227.00,535.22 227.28,535.21 227.57,535.20 227.85,535.18 228.13,535.17 228.42,535.15 228.70,535.14 228.98,535.12 229.26,535.10 229.54,535.08 229.82,535.06 230.10,535.04 230.38,535.02 230.66,534.99 230.94,534.97 231.22,534.94 231.50,534.91 231.78,534.88 232.06,534.85 232.34,534.82 232.62,534.78 232.89,534.74 233.17,534.71 233.45,534.66 233.72,534.62 234.00,534.58 234.28,534.53 234.55,534.48 234.83,534.43 235.10,534.37 235.38,534.31 235.65,534.25 235.92,534.19 236.20,534.12 236.47,534.05 236.74,533.98 237.02,533.90 237.29,533.82 237.56,533.74 237.83,533.65 238.10,533.56 238.38,533.46 238.65,533.36 238.92,533.25 239.19,533.14 239.46,533.03 239.73,532.91 239.99,532.79 240.26,532.66 240.53,532.52 240.80,532.38 241.07,532.23 241.34,532.08 241.60,531.92 241.87,531.76 242.14,531.59 242.40,531.41 242.67,531.23 242.93,531.04 243.20,530.84 243.46,530.63 243.73,530.42 243.99,530.20 244.26,529.97 244.52,529.73 244.78,529.49 245.05,529.23 245.31,528.97 245.57,528.70 245.83,528.42 246.10,528.13 246.36,527.83 246.62,527.52 246.88,527.20 247.14,526.87 247.40,526.53 247.66,526.19 247.92,525.83 248.18,525.46 248.44,525.08 248.70,524.68 248.95,524.28 249.21,523.87 249.47,523.44 249.73,523.00 249.98,522.55 250.24,522.09 250.50,521.62 250.75,521.14 251.01,520.64 251.26,520.13 251.52,519.61 251.77,519.07 252.03,518.53 252.28,517.97 252.54,517.40 252.79,516.81 253.04,516.22 253.30,515.61 253.55,514.98 253.80,514.35 254.05,513.70 254.30,513.04 254.55,512.36 254.81,511.68 255.06,510.98 255.31,510.26 255.56,509.54 255.81,508.80 256.06,508.05 256.30,507.29 256.55,506.51 256.80,505.72 257.05,504.93 257.30,504.11 257.54,503.29 257.79,502.46 258.04,501.61 258.28,500.75 258.53,499.89 258.78,499.01 259.02,498.12 259.27,497.22 259.51,496.31 259.76,495.39 260.00,494.46 260.24,493.52 260.49,492.57 260.73,491.61 260.97,490.65 261.22,489.67 261.46,488.69 261.70,487.70 261.94,486.71 262.18,485.71 262.42,484.70 262.66,483.68 262.90,482.66 263.14,481.63 263.38,480.60 263.62,479.57 263.86,478.53 264.10,477.48 264.34,476.44 264.58,475.39 264.82,474.34 265.05,473.28 265.29,472.22 265.53,471.17 265.76,470.11 266.00,469.05 266.24,467.99 266.47,466.93 266.71,465.88 266.94,464.82 267.18,463.76 267.41,462.71 267.64,461.66 267.88,460.62 268.11,459.57 268.34,458.53 268.58,457.50 268.81,456.47 269.04,455.44 269.27,454.42 269.50,453.40 269.74,452.39 269.97,451.39 270.20,450.40 270.43,449.41 270.66,448.43 270.89,447.45 271.11,446.49 271.34,445.53 271.57,444.58 271.80,443.64 272.03,442.71 272.26,441.79 272.48,440.88 272.71,439.98 272.94,439.09 273.16,438.21 273.39,437.35 273.61,436.49 273.84,435.64 274.06,434.81 274.29,433.99 274.51,433.17 274.74,432.38 274.96,431.59 275.18,430.81 275.41,430.05 275.63,429.30 275.85,428.56 276.07,427.84 276.30,427.12 276.52,426.42 276.74,425.74 276.96,425.06 277.18,424.40 277.40,423.75 277.62,423.12 277.84,422.49 278.06,421.88 278.28,421.29 278.50,420.70 278.71,420.13 278.93,419.57 279.15,419.03 279.37,418.49 279.58,417.97 279.80,417.46 280.02,416.96 280.23,416.48 280.45,416.01 280.66,415.55 280.88,415.10 281.09,414.66 281.31,414.23 281.52,413.82 281.74,413.42 281.95,413.02 282.16,412.64 282.38,412.27 282.59,411.91 282.80,411.57 283.01,411.23 283.22,410.90 283.43,410.58 283.65,410.27 283.86,409.97 284.07,409.68 284.28,409.40 284.49,409.13 284.70,408.87 284.90,408.61 285.11,408.37 285.32,408.13 285.53,407.90 285.74,407.68 285.94,407.47 286.15,407.26 286.36,407.06 286.56,406.87 286.77,406.69 286.98,406.51 287.18,406.34 287.39,406.18 287.59,406.02 287.80,405.87 288.00,405.72 288.20,405.58 288.41,405.44 288.61,405.31 288.81,405.19 289.02,405.07 289.22,404.96 289.42,404.85 289.62,404.74 289.82,404.64 290.02,404.54 290.22,404.45 290.42,404.36 290.62,404.28 290.82,404.20 291.02,404.12 291.22,404.05 291.42,403.98 291.62,403.91 291.82,403.85 292.02,403.79 292.21,403.73 292.41,403.67 292.61,403.62 292.80,403.57 293.00,403.52 293.20,403.48 293.39,403.44 293.59,403.39 293.78,403.36 293.98,403.32 294.17,403.28 294.36,403.25 294.56,403.22 294.75,403.19 294.94,403.16 295.14,403.13 295.33,403.11 295.52,403.08 295.71,403.06 295.90,403.04 296.10,403.02 296.29,403.00 296.48,402.98 296.67,402.96 296.86,402.95 297.05,402.93 297.23,402.92 297.42,402.90 297.61,402.89 297.80,402.88 297.99,402.87 298.18,402.86 298.36,402.85 298.55,402.84 298.74,402.83 298.92,402.82 299.11,402.81 299.29,402.80 299.48,402.80 299.66,402.79 299.85,402.79 300.03,402.78 300.22,402.77 300.40,402.77 300.58,402.76 300.77,402.76 300.95,402.76 301.13,402.75 301.31,402.75 301.50,402.74 301.68,402.74 301.86,402.74 302.04,402.74 302.22,402.73 302.40,402.73 302.58,402.73 302.76,402.73 302.94,402.72 303.12,402.72 303.30,402.72 303.47,402.72 303.65,402.72 303.83,402.72 304.01,402.72 304.18,402.71 304.36,402.71 304.54,402.71 304.71,402.71 304.89,402.71 305.06,402.71 305.24,402.71 305.41,402.71 305.59,402.71 305.76,402.71 305.94,402.71 306.11,402.71 306.28,402.71 306.46,402.70 306.63,402.70 306.80,402.70 306.97,402.70 307.14,402.70 307.31,402.70 307.49,402.70 307.66,402.70 307.83,402.70 308.00,402.70 308.17,402.70 308.34,402.70 308.50,402.70 322.40,402.70" fill="none" stroke="#0c8a20" stroke-width="1.25" stroke-linejoin="round"/>
<polyline points="16.30,535.40 54.17,535.40 54.55,535.40 54.93,535.40 55.31,535.40 55.70,535.40 56.09,535.40 56.48,535.40 56.88,535.40 57.28,535.40 57.68,535.40 58.09,535.40 58.49,535.40 58.90,535.40 59.32,535.39 59.73,535.39 60.15,535.39 60.57,535.39 61.00,535.39 61.42,535.39 61.85,535.39 62.28,535.39 62.72,535.39 63.15,535.39 63.59,535.39 64.03,535.39 64.48,535.39 64.92,535.38 65.37,535.38 65.82,535.38 66.27,535.38 66.73,535.38 67.19,535.38 67.65,535.38 68.11,535.37 68.57,535.37 69.04,535.37 69.51,535.37 69.98,535.36 70.46,535.36 70.93,535.36 71.41,535.36 71.89,535.35 72.37,535.35 72.85,535.34 73.34,535.34 73.83,535.34 74.32,535.33 74.81,535.33 75.30,535.32 75.80,535.31 76.30,535.31 76.80,535.30 77.30,535.30 77.80,535.29 78.30,535.28 78.81,535.27 79.32,535.26 79.83,535.25 80.34,535.24 80.86,535.23 81.37,535.22 81.89,535.21 82.41,535.20 82.93,535.18 83.45,535.17 83.97,535.15 84.50,535.14 85.02,535.12 85.55,535.10 86.08,535.08 86.61,535.06 87.14,535.04 87.68,535.02 88.21,534.99 88.75,534.97 89.29,534.94 89.82,534.91 90.36,534.88 90.91,534.85 91.45,534.82 91.99,534.78 92.54,534.74 93.08,534.71 93.63,534.66 94.18,534.62 94.73,534.58 95.28,534.53 95.83,534.48 96.39,534.43 96.94,534.37 97.50,534.31 98.05,534.25 98.61,534.19 99.17,534.12 99.73,534.05 100.29,533.98 100.85,533.90 101.41,533.82 101.97,533.74 102.53,533.65 103.10,533.56 103.66,533.46 104.23,533.36 104.80,533.25 105.36,533.14 105.93,533.03 106.50,532.91 107.07,532.79 107.64,532.66 108.21,532.52 108.78,532.38 109.35,532.23 109.92,532.08 110.49,531.92 111.07,531.76 111.64,531.59 112.21,531.41 112.79,531.23 113.36,531.04 113.94,530.84 114.51,530.63 115.09,530.42 115.66,530.20 116.24,529.97 116.82,529.73 117.39,529.49 117.97,529.23 118.55,528.97 119.12,528.70 119.70,528.42 120.28,528.13 120.86,527.83 121.43,527.52 122.01,527.20 122.59,526.87 123.17,526.53 123.74,526.19 124.32,525.83 124.90,525.46 125.48,525.08 126.06,524.68 126.63,524.28 127.21,523.87 127.79,523.44 128.36,523.00 128.94,522.55 129.52,522.09 130.09,521.62 130.67,521.14 131.25,520.64 131.82,520.13 132.40,519.61 132.97,519.07 133.55,518.53 134.12,517.97 134.69,517.40 135.27,516.81 135.84,516.22 136.41,515.61 136.98,514.98 137.55,514.35 138.12,513.70 138.69,513.04 139.26,512.36 139.83,511.68 140.40,510.98 140.97,510.26 141.54,509.54 142.10,508.80 142.67,508.05 143.23,507.29 143.80,506.51 144.36,505.72 144.92,504.93 145.48,504.11 146.04,503.29 146.60,502.46 147.16,501.61 147.72,500.75 148.28,499.89 148.83,499.01 149.39,498.12 149.94,497.22 150.49,496.31 151.05,495.39 151.60,494.46 152.15,493.52 152.69,492.57 153.24,491.61 153.79,490.65 154.33,489.67 154.88,488.69 155.42,487.70 155.96,486.71 156.50,485.71 157.04,484.70 157.58,483.68 158.11,482.66 158.65,481.63 159.18,480.60 159.71,479.57 160.24,478.53 160.77,477.48 161.30,476.44 161.83,475.39 162.35,474.34 162.87,473.28 163.39,472.22 163.91,471.17 164.43,470.11 164.95,469.05 165.46,467.99 165.98,466.93 166.49,465.88 167.00,464.82 167.51,463.76 168.01,462.71 168.52,461.66 169.02,460.62 169.52,459.57 170.02,458.53 170.52,457.50 171.01,456.47 171.51,455.44 172.00,454.42 172.49,453.40 172.97,452.39 173.46,451.39 173.94,450.40 174.42,449.41 174.90,448.43 175.38,447.45 175.86,446.49 176.33,445.53 176.80,444.58 177.27,443.64 177.73,442.71 178.20,441.79 178.66,440.88 179.12,439.98 179.58,439.09 180.03,438.21 180.48,437.35 180.94,436.49 181.38,435.64 181.83,434.81 182.27,433.99 182.71,433.17 183.15,432.38 183.59,431.59 184.02,430.81 184.45,430.05 184.88,429.30 185.30,428.56 185.73,427.84 186.15,427.12 186.57,426.42 186.98,425.74 187.39,425.06 187.80,424.40 188.21,423.75 188.61,423.12 189.01,422.49 189.41,421.88 189.81,421.29 190.20,420.70 190.59,420.13 190.98,419.57 191.36,419.03 191.74,418.49 192.12,417.97 192.50,417.46 192.87,416.96 193.24,416.48 193.61,416.01 193.97,415.55 194.33,415.10 194.69,414.66 195.04,414.23 195.39,413.82 195.74,413.42 196.08,413.02 196.42,412.64 196.76,412.27 197.10,411.91 197.43,411.57 197.76,411.23 198.08,410.90 198.40,410.58 198.72,410.27 199.04,409.97 199.35,409.68 199.66,409.40 199.96,409.13 200.26,408.87 200.56,408.61 200.85,408.37 201.14,408.13 201.43,407.90 201.71,407.68 201.99,407.47 202.27,407.26 202.54,407.06 202.81,406.87 203.07,406.69 203.33,406.51 203.59,406.34 203.85,406.18 204.10,406.02 204.34,405.87 204.58,405.72 204.82,405.58 205.06,405.44 205.29,405.31 205.51,405.19 205.74,405.07 205.95,404.96 206.17,404.85 206.38,404.74 206.59,404.64 206.79,404.54 207.11,404.45 207.43,404.36 207.75,404.28 208.07,404.20 208.39,404.12 208.71,404.05 209.03,403.98 209.35,403.91 209.67,403.85 209.99,403.79 210.31,403.73 210.63,403.67 210.95,403.62 211.27,403.57 211.59,403.52 211.91,403.48 212.23,403.44 212.55,403.39 212.87,403.36 213.19,403.32 213.51,403.28 213.83,403.25 214.15,403.22 214.47,403.19 214.79,403.16 215.11,403.13 215.43,403.11 215.75,403.08 216.07,403.06 216.39,403.04 216.71,403.02 217.03,403.00 217.35,402.98 217.67,402.96 217.99,402.95 218.31,402.93 218.63,402.92 218.95,402.90 219.27,402.89 219.59,402.88 219.91,402.87 220.23,402.86 220.55,402.85 220.87,402.84 221.19,402.83 221.51,402.82 221.83,402.81 222.15,402.80 222.47,402.80 222.79,402.79 223.11,402.79 223.43,402.78 223.75,402.77 224.07,402.77 224.39,402.76 224.71,402.76 225.03,402.76 225.35,402.75 225.67,402.75 225.99,402.74 226.31,402.74 226.63,402.74 226.95,402.74 227.27,402.73 227.59,402.73 227.91,402.73 228.23,402.73 228.55,402.72 228.87,402.72 229.19,402.72 229.51,402.72 229.83,402.72 230.15,402.72 230.47,402.72 230.79,402.71 231.11,402.71 231.43,402.71 231.75,402.71 232.07,402.71 232.39,402.71 232.71,402.71 233.03,402.71 233.35,402.71 233.67,402.71 233.99,402.71 234.31,402.71 234.63,402.71 234.95,402.70 235.27,402.70 235.59,402.70 235.91,402.70 236.23,402.70 236.55,402.70 236.87,402.70 237.19,402.70 237.51,402.70 237.83,402.70 238.15,402.70 238.47,402.70 238.79,402.70 322.40,402.70" fill="none" stroke="#9a108e" stroke-width="1.25" stroke-linejoin="round"/>
<rect x="16.3" y="391.3" width="306.09999999999997" height="11.399999999999977" fill="#fff"/>
<rect x="211.2" y="391.3" width="48.69999999999999" height="5.699999999999989" fill="#fa0c38"/>
<rect x="211.2" y="397.0" width="48.69999999999999" height="5.699999999999989" fill="#2222f8"/>
<line x1="211.2" y1="391.3" x2="211.2" y2="535.4" stroke="#6e6e6e" stroke-width="0.55"/>
<path d="M210.2 390.1h2l-1 1.4z" fill="#222"/>
<line x1="259.9" y1="391.3" x2="259.9" y2="535.4" stroke="#6e6e6e" stroke-width="0.55"/>
<path d="M258.9 390.1h2l-1 1.4z" fill="#222"/>
<rect x="16.3" y="391.3" width="306.09999999999997" height="11.399999999999977" fill="none" stroke="#707070" stroke-width="0.5"/>
<line x1="16.3" y1="397.00" x2="322.4" y2="397.00" stroke="#9a9a9a" stroke-width="0.75"/>
<path d="M16.3 402.7V535.6999999999999" fill="none" stroke="#858585" stroke-width="0.7"/>
<line x1="322.4" y1="402.7" x2="322.4" y2="535.4" stroke="#dcdcdc" stroke-width="0.5"/>
<text class="dl" x="113.8" y="395.9" style="font-size:4.3px">5.0%</text><text class="dl" x="113.8" y="401.4" style="font-size:4.3px">2.8%</text>
<text class="dw" x="235.4" y="395.9" style="font-size:4.3px">90.0%</text><text class="dw" x="235.4" y="401.4" style="font-size:4.3px">89.2%</text>
<text class="dl" x="291" y="395.9" style="font-size:4.3px">5.0%</text><text class="dl" x="291" y="401.4" style="font-size:4.3px">8.0%</text>
<text class="dl" x="211.5" y="389.5" style="font-size:4.4px">-3.198</text>
<text class="dl" x="259.5" y="389.5" style="font-size:4.4px">-2.847</text>
<text class="tkc" text-anchor="end" transform="translate(17.80,538.30) rotate(-90)">-4.6</text>
<text class="tkc" text-anchor="end" transform="translate(45.63,538.30) rotate(-90)">-4.4</text>
<text class="tkc" text-anchor="end" transform="translate(73.45,538.30) rotate(-90)">-4.2</text>
<text class="tkc" text-anchor="end" transform="translate(101.28,538.30) rotate(-90)">-4.0</text>
<text class="tkc" text-anchor="end" transform="translate(129.11,538.30) rotate(-90)">-3.8</text>
<text class="tkc" text-anchor="end" transform="translate(156.94,538.30) rotate(-90)">-3.6</text>
<text class="tkc" text-anchor="end" transform="translate(184.76,538.30) rotate(-90)">-3.4</text>
<text class="tkc" text-anchor="end" transform="translate(212.59,538.30) rotate(-90)">-3.2</text>
<text class="tkc" text-anchor="end" transform="translate(240.42,538.30) rotate(-90)">-3.0</text>
<text class="tkc" text-anchor="end" transform="translate(268.25,538.30) rotate(-90)">-2.8</text>
<text class="tkc" text-anchor="end" transform="translate(296.07,538.30) rotate(-90)">-2.6</text>
<text class="tkc" text-anchor="end" transform="translate(323.90,538.30) rotate(-90)">-2.4</text>
<text class="tkc" x="14.100000000000001" y="537.10" text-anchor="end">0.0</text>
<line x1="14.3" y1="535.40" x2="16.3" y2="535.40" stroke="#777" stroke-width="0.5"/>
<text class="tkc" x="14.100000000000001" y="510.56" text-anchor="end">0.2</text>
<line x1="14.3" y1="508.86" x2="16.3" y2="508.86" stroke="#777" stroke-width="0.5"/>
<text class="tkc" x="14.100000000000001" y="484.02" text-anchor="end">0.4</text>
<line x1="14.3" y1="482.32" x2="16.3" y2="482.32" stroke="#777" stroke-width="0.5"/>
<text class="tkc" x="14.100000000000001" y="457.48" text-anchor="end">0.6</text>
<line x1="14.3" y1="455.78" x2="16.3" y2="455.78" stroke="#777" stroke-width="0.5"/>
<text class="tkc" x="14.100000000000001" y="430.94" text-anchor="end">0.8</text>
<line x1="14.3" y1="429.24" x2="16.3" y2="429.24" stroke="#777" stroke-width="0.5"/>
<text class="tkc" x="14.100000000000001" y="404.40" text-anchor="end">1.0</text>
<line x1="14.3" y1="402.70" x2="16.3" y2="402.70" stroke="#777" stroke-width="0.5"/>
<rect x="324.1" y="412.10" width="4" height="0.8" fill="#f0143c"/>
<text class="lg" style="font-size:4.7px" transform="translate(332.1,414.10) scale(0.86,1)">Suspension</text>
<text class="st" style="font-size:4.2px" x="325.4" y="419.75">Minimum</text>
<text class="st" style="font-size:4.2px" x="357.4" y="419.75" text-anchor="end">-3.4814</text>
<text class="st" style="font-size:4.2px" x="325.4" y="424.25">Maximum</text>
<text class="st" style="font-size:4.2px" x="357.4" y="424.25" text-anchor="end">-2.6641</text>
<text class="st" style="font-size:4.2px" x="325.4" y="428.75">Mean</text>
<text class="st" style="font-size:4.2px" x="357.4" y="428.75" text-anchor="end">-3.0151</text>
<text class="st" style="font-size:4.2px" x="325.4" y="433.05">Std Dev</text>
<text class="st" style="font-size:4.2px" x="357.4" y="433.05" text-anchor="end">0.1069</text>
<text class="st" style="font-size:4.2px" x="325.4" y="437.55">Values</text>
<text class="st" style="font-size:4.2px" x="357.4" y="437.55" text-anchor="end">10,000</text>
<rect x="324.1" y="443.10" width="4" height="0.8" fill="#1c1cf0"/>
<text class="lg" style="font-size:4.7px" transform="translate(332.1,445.10) scale(0.86,1)">Scalding</text>
<text class="st" style="font-size:4.2px" x="325.4" y="451.05">Minimum</text>
<text class="st" style="font-size:4.2px" x="357.4" y="451.05" text-anchor="end">-3.4380</text>
<text class="st" style="font-size:4.2px" x="325.4" y="455.45">Maximum</text>
<text class="st" style="font-size:4.2px" x="357.4" y="455.45" text-anchor="end">-2.6415</text>
<text class="st" style="font-size:4.2px" x="325.4" y="460.05">Mean</text>
<text class="st" style="font-size:4.2px" x="357.4" y="460.05" text-anchor="end">-2.9982</text>
<text class="st" style="font-size:4.2px" x="325.4" y="464.55">Std Dev</text>
<text class="st" style="font-size:4.2px" x="357.4" y="464.55" text-anchor="end">0.1038</text>
<text class="st" style="font-size:4.2px" x="325.4" y="468.75">Values</text>
<text class="st" style="font-size:4.2px" x="357.4" y="468.75" text-anchor="end">10,000</text>
<rect x="324.1" y="473.40" width="4" height="0.8" fill="#0c8a1c"/>
<text class="lg" style="font-size:4.7px" transform="translate(332.1,475.40) scale(0.86,1)">De-feathering</text>
<text class="st" style="font-size:4.2px" x="325.4" y="480.75">Minimum</text>
<text class="st" style="font-size:4.2px" x="357.4" y="480.75" text-anchor="end">-3.2269</text>
<text class="st" style="font-size:4.2px" x="325.4" y="485.45">Maximum</text>
<text class="st" style="font-size:4.2px" x="357.4" y="485.45" text-anchor="end">-2.4768</text>
<text class="st" style="font-size:4.2px" x="325.4" y="490.05">Mean</text>
<text class="st" style="font-size:4.2px" x="357.4" y="490.05" text-anchor="end">-2.8172</text>
<text class="st" style="font-size:4.2px" x="325.4" y="494.35">Std Dev</text>
<text class="st" style="font-size:4.2px" x="357.4" y="494.35" text-anchor="end">0.0917</text>
<text class="st" style="font-size:4.2px" x="325.4" y="498.75">Values</text>
<text class="st" style="font-size:4.2px" x="357.4" y="498.75" text-anchor="end">10,000</text>
<rect x="324.1" y="504.10" width="4" height="0.8" fill="#a0109c"/>
<text class="lg" style="font-size:4.7px" transform="translate(332.1,506.10) scale(0.86,1)">Chilling</text>
<text class="st" style="font-size:4.2px" x="325.4" y="511.25">Minimum</text>
<text class="st" style="font-size:4.2px" x="357.4" y="511.25" text-anchor="end">-4.4465</text>
<text class="st" style="font-size:4.2px" x="325.4" y="515.55">Maximum</text>
<text class="st" style="font-size:4.2px" x="357.4" y="515.55" text-anchor="end">-2.9378</text>
<text class="st" style="font-size:4.2px" x="325.4" y="520.05">Mean</text>
<text class="st" style="font-size:4.2px" x="357.4" y="520.05" text-anchor="end">-3.5524</text>
<text class="st" style="font-size:4.2px" x="325.4" y="524.55">Std Dev</text>
<text class="st" style="font-size:4.2px" x="357.4" y="524.55" text-anchor="end">0.1849</text>
<text class="st" style="font-size:4.2px" x="325.4" y="529.05">Values</text>
<text class="st" style="font-size:4.2px" x="357.4" y="529.05" text-anchor="end">10,000</text>
</svg></body></html>
